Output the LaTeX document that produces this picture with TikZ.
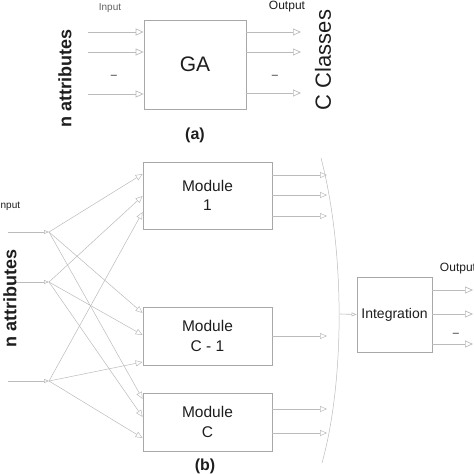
\documentclass[tikz,border=0pt]{standalone}
\usepackage{fontspec}
\setmainfont{Liberation Sans}
\usetikzlibrary{arrows.meta}
\definecolor{wire}{HTML}{BBBBBB}
\definecolor{frame}{HTML}{A8A8A8}
\definecolor{ink}{HTML}{1E1E1E}
\tikzstyle{block} = [draw=frame, line width=0.8pt, fill=white, text=ink, align=center, inner sep=0pt]
\tikzstyle{arrow} = [draw=wire, line width=0.7pt, -{Triangle[open,length=8pt,width=7pt]}]
\tikzstyle{fan} = [draw=wire, line width=0.5pt, -{Triangle[open,length=7pt,width=6pt]}]
\tikzstyle{tiny arrow} = [draw=wire, line width=0.6pt, -{Triangle[open,length=5pt,width=4pt]}]
\tikzstyle{label} = [text=ink, inner sep=0pt]

\begin{document}
\begin{tikzpicture}[x=1pt, y=-1pt]
\useasboundingbox (0,0) rectangle (474,474);

% (a) single GA
\node (ga) [block, minimum width=102pt, minimum height=89pt, font=\fontsize{21}{21}\selectfont] at (195,64.5) {GA};

\foreach \y [count=\i] in {32,52,94} {
  \coordinate (ina\i) at (88,\y);
  \draw [arrow] (ina\i) -- (ina\i -| ga.west);
}
\foreach \y [count=\i] in {32,52,93} {
  \coordinate (outa\i) at (301,\y);
  \draw [arrow] (outa\i -| ga.east) -- (outa\i);
}

\node (input a) [label, font=\fontsize{10}{10}\selectfont, text=ink!70] at (110,8) {Input};
\node (output a) [label, font=\fontsize{12}{12}\selectfont] at (287,7) {Output};
\node (gap in a) [label, font=\fontsize{11}{11}\selectfont] at (114,77) {--};
\node (gap out a) [label, font=\fontsize{11}{11}\selectfont] at (275,77) {--};
\node (attr a) [label, rotate=90, font=\bfseries\fontsize{18}{18}\selectfont] at (65,78) {n attributes};
\node (classes a) [label, rotate=90, font=\fontsize{22}{22}\selectfont] at (323,60) {C Classes};
\node (cap a) [label, font=\bfseries\fontsize{16}{16}\selectfont] at (195,135) {(a)};

% (b) modular version
\node (mod1) [block, minimum width=129pt, minimum height=67pt, font=\fontsize{15.5}{19.5}\selectfont] at (207.5,195.5) {Module\\1};
\node (modc1) [block, minimum width=129pt, minimum height=58pt, font=\fontsize{15.5}{19.5}\selectfont] at (207.5,336) {Module\\C - 1};
\node (modc) [block, minimum width=129pt, minimum height=58pt, font=\fontsize{15.5}{19.5}\selectfont] at (207.5,422) {Module\\C};
\node (integ) [block, minimum width=75pt, minimum height=75pt, font=\fontsize{14}{14}\selectfont] at (394.5,314.5) {Integration};

\foreach \y [count=\i] in {232,282,381} {
  \coordinate (inb\i) at (8,\y);
  \coordinate (hub\i) at (49,\y);
  \draw [tiny arrow] (inb\i) -- (hub\i);
}
\foreach \i/\ya/\yb/\yc in {1/174/313/399, 2/196/335/417, 3/212/362/438} {
  \draw [fan] (hub\i) -- (mod1.west |- 0,\ya);
  \draw [fan] (hub\i) -- (modc1.west |- 0,\yb);
  \draw [fan] (hub\i) -- (modc.west |- 0,\yc);
}

% module outputs
\foreach \y in {175,195,216}
  \draw [fan] (mod1.east |- 0,\y) -- (327,\y);
\draw [fan] (modc1.east |- 0,336) -- (327,336);
\foreach \y in {409,433}
  \draw [fan] (modc.east |- 0,\y) -- (327,\y);

% bracket gathering the outputs
\draw [wire, line width=0.5pt] (321,158) .. controls (345,250) and (345,380) .. (322,463);
\coordinate (merge) at (340,314);
\draw [tiny arrow] (merge) -- (integ.west);

\foreach \y [count=\i] in {290,314,344} {
  \coordinate (outb\i) at (473,\y);
  \draw [arrow] (outb\i -| integ.east) -- (outb\i);
}

\node (input b) [label, font=\fontsize{10}{10}\selectfont] at (9,206) {Input};
\node (output b) [label, font=\fontsize{12}{12}\selectfont] at (458,269) {Output};
\node (gap out b) [label, font=\fontsize{11}{11}\selectfont] at (456,335) {--};
\node (attr b) [label, rotate=90, font=\bfseries\fontsize{18}{18}\selectfont] at (10,298) {n attributes};
\node (cap b) [label, font=\bfseries\fontsize{16}{16}\selectfont] at (205,466) {(b)};

\end{tikzpicture}
\end{document}
